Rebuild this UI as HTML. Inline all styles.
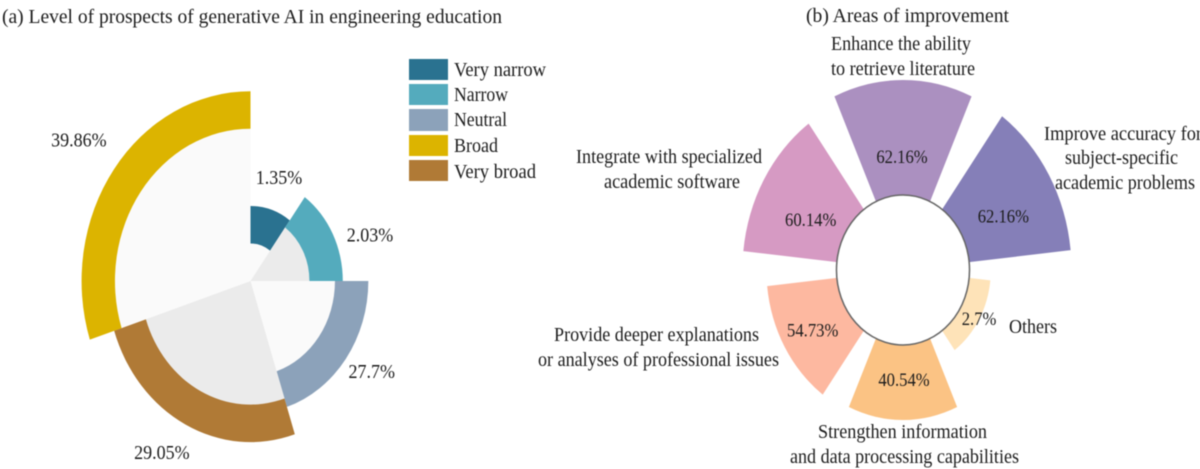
<!DOCTYPE html>
<html lang="en">
<head>
<meta charset="utf-8">
<title>Generative AI in engineering education</title>
<style>
html,body{margin:0;padding:0;background:#fff;width:1200px;height:469px;overflow:hidden}
svg{display:block;filter:blur(.45px)}
text{font-family:"Liberation Serif",serif;fill:#1c1c1c;font-size:20px}
</style>
</head>
<body>
<svg id="figure" xmlns="http://www.w3.org/2000/svg" width="1200" height="469" viewBox="0 0 1200 469">
  <rect width="1200" height="469" fill="#fff"/>
  <text x="2" y="23" textLength="500" lengthAdjust="spacingAndGlyphs">(a) Level of prospects of generative AI in engineering education</text>
  <text x="806" y="22" textLength="203" lengthAdjust="spacingAndGlyphs">(b) Areas of improvement</text>

  <g>
    <g><rect x="409" y="59" width="39" height="21" fill="#2a7290"/><text x="454" y="76" textLength="92" lengthAdjust="spacingAndGlyphs">Very narrow</text></g>
    <g><rect x="409" y="84" width="39" height="21" fill="#54abbd"/><text x="454" y="101" textLength="54" lengthAdjust="spacingAndGlyphs">Narrow</text></g>
    <g><rect x="409" y="109" width="39" height="22" fill="#8ca2ba"/><text x="454" y="126" textLength="53" lengthAdjust="spacingAndGlyphs">Neutral</text></g>
    <g><rect x="409" y="135" width="39" height="21" fill="#dcb400"/><text x="454" y="152" textLength="44" lengthAdjust="spacingAndGlyphs">Broad</text></g>
    <g><rect x="409" y="160" width="39" height="21" fill="#b07a36"/><text x="454" y="178" textLength="82" lengthAdjust="spacingAndGlyphs">Very broad</text></g>
  </g>

  <g id="left-chart"></g>
  <g id="right-chart"></g>

  <g>
    <text x="831" y="50" textLength="140" lengthAdjust="spacingAndGlyphs">Enhance the ability</text>
    <text x="831" y="75" textLength="144" lengthAdjust="spacingAndGlyphs">to retrieve literature</text>
    <text x="1044" y="140" textLength="158" lengthAdjust="spacingAndGlyphs">Improve accuracy for</text>
    <text x="1065" y="164" textLength="113" lengthAdjust="spacingAndGlyphs">subject-specific</text>
    <text x="1055" y="189" textLength="140" lengthAdjust="spacingAndGlyphs">academic problems</text>
    <text x="576" y="163" textLength="186" lengthAdjust="spacingAndGlyphs">Integrate with specialized</text>
    <text x="604" y="188" textLength="136" lengthAdjust="spacingAndGlyphs">academic software</text>
    <text x="554" y="341" textLength="205" lengthAdjust="spacingAndGlyphs">Provide deeper explanations</text>
    <text x="538" y="366" textLength="241" lengthAdjust="spacingAndGlyphs">or analyses of professional issues</text>
    <text x="818" y="438" textLength="169" lengthAdjust="spacingAndGlyphs">Strengthen information</text>
    <text x="790" y="463" textLength="229" lengthAdjust="spacingAndGlyphs">and data processing capabilities</text>
    <text x="1009" y="333" textLength="48" lengthAdjust="spacingAndGlyphs">Others</text>
  </g>
</svg>
<script>
// Data: chart (a)
const prospectCategories = ['very-narrow', 'narrow', 'neutral', 'very-broad', 'broad'];
const prospectValues = [1.35, 2.03, 27.7, 29.05, 39.86];
const prospectScaleTicks = [1.35, 2.03, 27.7, 29.05, 39.86];

// Data: chart (b)
const improvementCategories = ['retrieve-literature', 'accuracy', 'others', 'data-processing', 'explanations', 'specialized-software'];
const improvementValues = [62.16, 62.16, 2.7, 40.54, 54.73, 60.14];
const improvementScaleTicks = [2.7, 40.54, 54.73, 60.14, 62.16];

const SVG_NS = 'http://www.w3.org/2000/svg';
const prospectColors = ['#2a7290', '#54abbd', '#8ca2ba', '#b07a36', '#dcb400'];
const wedgeColors = ['#fafafa', '#ebebeb', '#fafafa', '#ebebeb', '#fafafa'];
const improvementColors = ['#ab90c0', '#857fb8', '#fee3b8', '#fbc384', '#fdb8a0', '#d69ac3'];
const prospectLabelNudge = [[-2, 8.6], [8.7, 24], [0, -2], [-9, 2.4], [-9, -1.6]];
const improvementLabelNudge = [[-1, 8], [12, 10], [0, 5.5], [1, 1], [-2, 9], [-4, 13.5]];

function piecewise(value, domain, range) {
  let i = 0;
  while (i < domain.length - 2 && value > domain[i + 1]) i++;
  const t = (value - domain[i]) / (domain[i + 1] - domain[i]);
  return range[i] + t * (range[i + 1] - range[i]);
}

function polar(cx, cy, squeeze, radius, degrees) {
  const a = degrees * Math.PI / 180;
  return [cx + squeeze * radius * Math.sin(a), cy - radius * Math.cos(a)];
}

function sectorPath(cx, cy, squeeze, inner, outer, a0, a1) {
  const large = a1 - a0 > 180 ? 1 : 0;
  const p0 = polar(cx, cy, squeeze, outer, a0);
  const p1 = polar(cx, cy, squeeze, outer, a1);
  let d = 'M' + p0[0] + ' ' + p0[1] + 'A' + squeeze * outer + ' ' + outer + ' 0 ' + large + ' 1 ' + p1[0] + ' ' + p1[1];
  if (inner > 0) {
    const p2 = polar(cx, cy, squeeze, inner, a1);
    const p3 = polar(cx, cy, squeeze, inner, a0);
    d += 'L' + p2[0] + ' ' + p2[1] + 'A' + squeeze * inner + ' ' + inner + ' 0 ' + large + ' 0 ' + p3[0] + ' ' + p3[1];
  } else {
    d += 'L' + cx + ' ' + cy;
  }
  return d + 'Z';
}

function addPath(parent, d, fill) {
  const el = document.createElementNS(SVG_NS, 'path');
  el.setAttribute('d', d);
  el.setAttribute('fill', fill);
  parent.appendChild(el);
  return el;
}

function addValueLabel(parent, x, y, str, scaleX, size) {
  const el = document.createElementNS(SVG_NS, 'text');
  el.setAttribute('transform', 'translate(' + x + ' ' + y + ') scale(' + scaleX + ' 1)');
  el.setAttribute('text-anchor', 'middle');
  el.style.fontSize = size + 'px';
  el.textContent = str;
  parent.appendChild(el);
  return el;
}

// Chart (a): rank-like value scale drives both sector angle and radius
(function drawProspects() {
  const root = document.getElementById('left-chart');
  const cx = 250.5, cy = 281, squeeze = 0.89, ring = 37.5;
  const levelOf = function (v) { return piecewise(v, prospectScaleTicks, [0, 1, 2, 3, 4]); };
  const levels = prospectValues.map(levelOf);
  const shares = levels.map(function (l) { return 2 + l; });
  const total = shares.reduce(function (a, b) { return a + b; }, 0);
  const angleOf = function (share) { return share / total * 360; };
  const outerOf = function (level) { return 75 + 28.7 * level; };
  let start = 0;
  prospectValues.forEach(function (v, i) {
    const sweep = angleOf(shares[i]);
    const end = start + sweep;
    const outer = outerOf(levels[i]);
    const inner = outer - ring;
    const wedge = addPath(root, sectorPath(cx, cy, squeeze, 0, inner + 0.5, start, end), wedgeColors[i]);
    
    
    const arc = addPath(root, sectorPath(cx, cy, squeeze, inner, outer, start, end), prospectColors[i]);
    
    
    const p = polar(cx, cy, squeeze, outer + 36, start + sweep / 2);
    const label = addValueLabel(root, p[0] + prospectLabelNudge[i][0], p[1] + prospectLabelNudge[i][1], v + '%', 0.9, 20);
    
    
    start = end;
  });
})();

// Chart (b): equal-width sectors, value scale drives radius
(function drawImprovements() {
  const root = document.getElementById('right-chart');
  const cx = 903, cy = 270, squeeze = 0.887, hole = 75, sectorSweep = 48;
  const outerOf = function (v) { return piecewise(v, improvementScaleTicks, [99, 150, 154, 181, 190]); };
  improvementValues.forEach(function (v, i) {
    const mid = i * 360 / improvementValues.length;
    const outer = outerOf(v);
    const sector = addPath(root, sectorPath(cx, cy, squeeze, hole, outer, mid - sectorSweep / 2, mid + sectorSweep / 2), improvementColors[i]);
    
    
  });
  const ring = document.createElementNS(SVG_NS, 'ellipse');
  
  
  ring.setAttribute('cx', cx);
  ring.setAttribute('cy', cy);
  ring.setAttribute('rx', squeeze * hole);
  ring.setAttribute('ry', hole);
  ring.setAttribute('fill', '#fff');
  ring.setAttribute('stroke', '#666');
  ring.setAttribute('stroke-width', '1.5');
  root.appendChild(ring);
  improvementValues.forEach(function (v, i) {
    const mid = i * 360 / improvementValues.length;
    const p = polar(cx, cy, squeeze, Math.min(115, outerOf(v)), mid);
    const label = addValueLabel(root, p[0] + improvementLabelNudge[i][0], p[1] + improvementLabelNudge[i][1], v + '%', 0.9, 18.5);
    
    
  });
})();
</script>
</body>
</html>
